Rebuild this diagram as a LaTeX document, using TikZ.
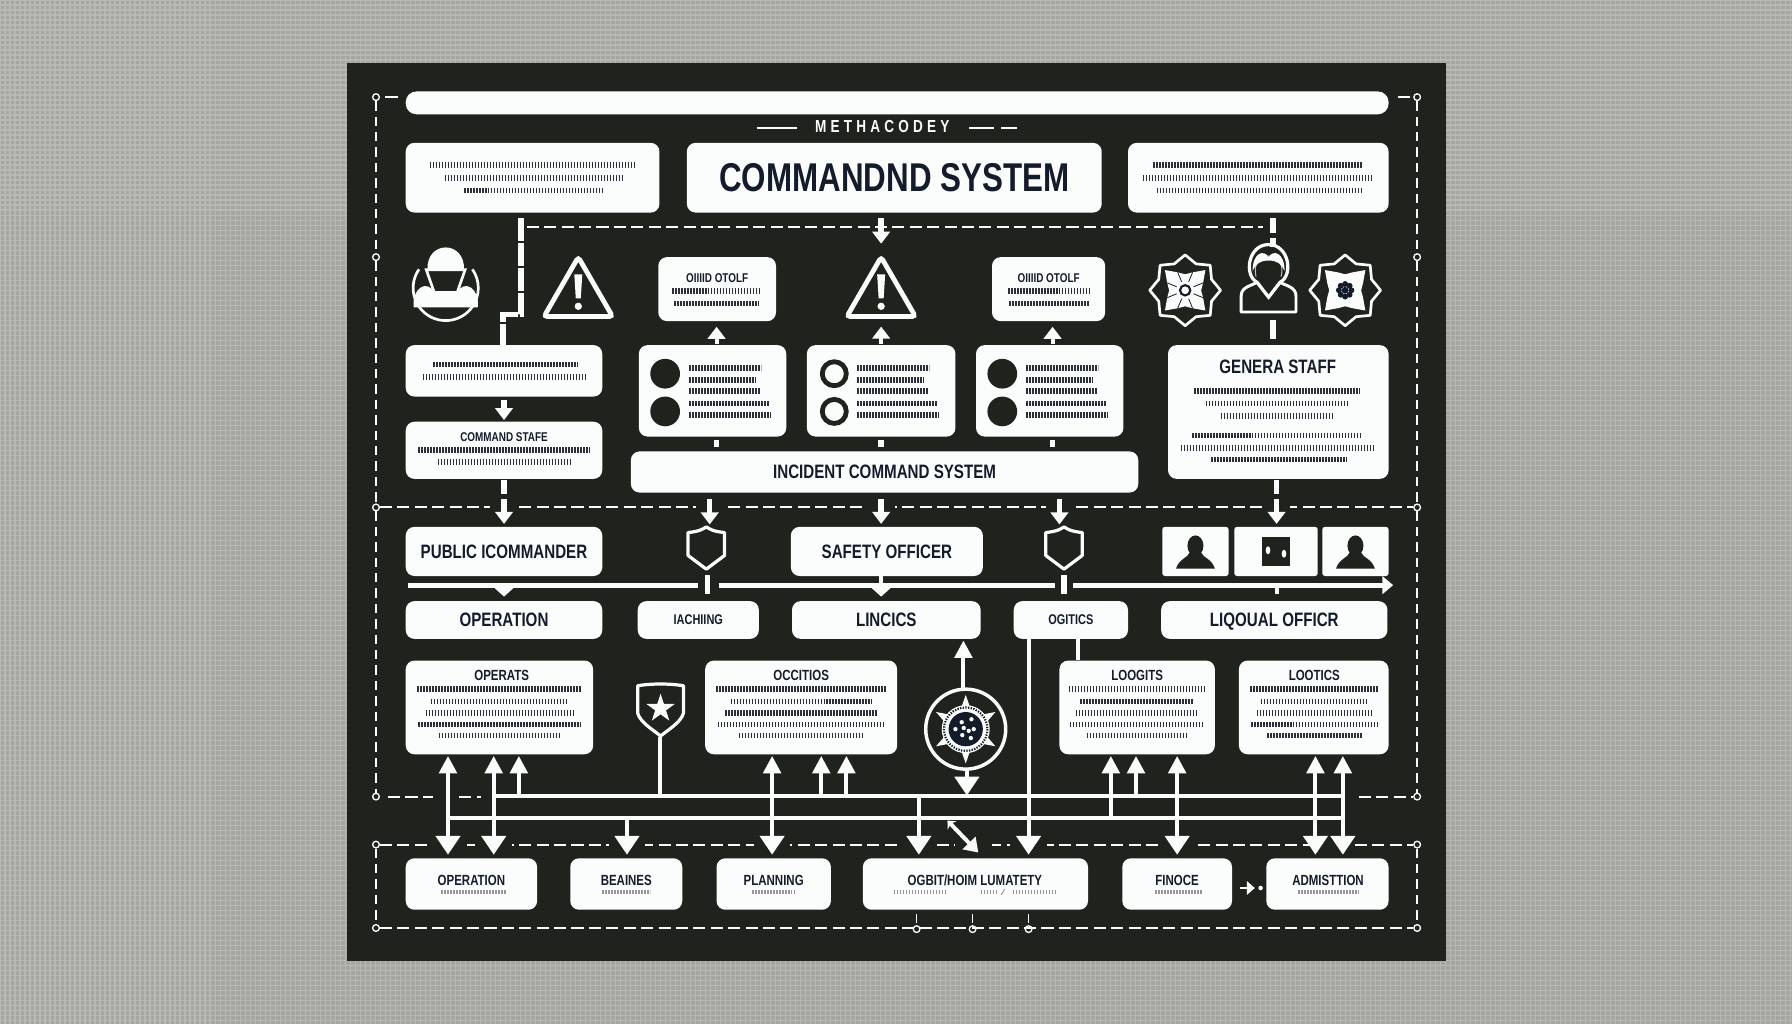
\documentclass[tikz,border=0pt]{standalone}
\usepackage{fontspec}
\setmainfont[FakeStretch=0.78]{Liberation Sans}
\newfontfamily\brandfont[FakeStretch=0.78,LetterSpace=24]{Liberation Sans}
\usepackage{tikz}
\usetikzlibrary{
  arrows.meta,
  calc,
  positioning
}
\definecolor{clothgray}{HTML}{A6A6A0}
\definecolor{clothline}{HTML}{B9B9B3}
\definecolor{panelbg}{HTML}{20221D}
\definecolor{boxwhite}{HTML}{FBFDFD}
\definecolor{inkdark}{HTML}{141C2C}
\definecolor{scribblegray}{HTML}{2A2F3A}
\newcommand{\sz}[1]{\fontsize{#1}{#1}\selectfont\bfseries}
\tikzset{
  tipup/.tip={Triangle[width=13pt, length=13pt]},
  tipdown/.tip={Triangle[width=18pt, length=14pt]},
  wh/.style 2 args={minimum width=#1*0.03cm, minimum height=#2*0.03cm},
  panelbox/.style={fill=boxwhite, rounded corners=6.5pt, inner sep=0pt, text=inkdark, align=center, text depth=0pt},
  plainbox/.style={fill=boxwhite, rounded corners=2pt, inner sep=0pt},
  caption/.style={inner sep=0pt, text=inkdark, align=center, text depth=0pt},
  scribble/.style={draw=scribblegray, line width=4.2pt, dash pattern=on 1.12pt off 1.12pt},
  scribblethin/.style={draw=scribblegray!50, line width=3pt, dash pattern=on 1.12pt off 1.12pt},
  ringdot/.style={circle, draw=boxwhite, fill=panelbg, line width=1pt, minimum size=5pt, inner sep=0pt},
  dashframe/.style={draw=boxwhite, line width=1.1pt, dash pattern=on 7pt off 4.5pt},
  dashrun/.style={draw=boxwhite, line width=1.5pt, dash pattern=on 9pt off 4pt},
  busline/.style={draw=boxwhite, line width=3pt},
  stubline/.style={draw=boxwhite, line width=4pt},
  onefeed/.style={draw=boxwhite, line width=4pt, -{Triangle[width=13pt, length=9pt]}},
  upfeed/.style={draw=boxwhite, line width=3pt, -tipup, shorten >=1pt},
  downfeed/.style={draw=boxwhite, line width=3pt, -tipdown, shorten >=2.5pt},
  twoway/.style={draw=boxwhite, line width=3pt, tipup-tipdown, shorten <=1pt, shorten >=2.5pt},
  gapmask/.style={fill=panelbg},
  warnsign/.pic={
    \draw[boxwhite, line width=3.6pt, rounded corners=2.5pt] (0,-26) -- (30,26) -- (-30,26) -- cycle;
    \fill[boxwhite] (-3.5,-11) -- (3.5,-11) -- (2.2,10) -- (-2.2,10) -- cycle;
    \fill[boxwhite] (0,17) circle (3.2);
  },
  rider/.pic={
    \fill[panelbg] (0,2) circle (28.5);
    \draw[boxwhite, line width=2pt] (215:28.5) ++(0,2) arc (215:-35:28.5);
    \fill[boxwhite] (-16,-14) .. controls (-17,-40) and (17,-40) .. (16,-14) -- cycle;
    \draw[boxwhite, line width=2pt, fill=panelbg] (-17,-14) -- (17,-14) -- (10,6) -- (-10,6) -- cycle;
    \fill[boxwhite] (-28,19) .. controls (-30,2) and (-16,-6) .. (-10,6) -- (10,6) .. controls (16,-6) and (30,2) .. (28,19) -- cycle;
  },
  guardshield/.pic={
    \draw[boxwhite, line width=2.4pt, fill=panelbg, line join=round] (-16,-14) .. controls (-6,-15) and (-3,-17) .. (0,-19) .. controls (3,-17) and (6,-15) .. (16,-14) -- (16,6) -- (0,18) -- (-16,6) -- cycle;
  },
  starshield/.pic={
    \draw[boxwhite, line width=2.4pt, fill=panelbg, line join=round] (-20,-20) .. controls (-8,-22) and (8,-22) .. (20,-20) -- (20,4) .. controls (18,12) and (6,19) .. (0,24) .. controls (-6,19) and (-18,12) .. (-20,4) -- cycle;
    \fill[boxwhite] (-90:13) -- (-54:5) -- (-18:13) -- (18:5) -- (54:13) -- (90:5) -- (126:13) -- (162:5) -- (198:13) -- (234:5) -- cycle;
  },
  badgerim/.pic={
    \draw[boxwhite, line width=2pt, fill=panelbg, line join=round] (0:31) \foreach \a in {45,90,...,315} {-- (\a-22.5:25) -- (\a:31)} -- (337.5:25) -- cycle;
    \fill[boxwhite] (45:25) -- (67.5:17) -- (90:14) -- (112.5:17) -- (135:25) -- (157.5:17) -- (180:14) -- (202.5:17) -- (225:25) -- (247.5:17) -- (270:14) -- (292.5:17) -- (315:25) -- (337.5:17) -- (0:14) -- (22.5:17) -- cycle;
  },
  eyebadge/.pic={
    \pic {badgerim};
    \draw[inkdark, line width=1.6pt] (0,0) circle (4.5);
    \foreach \a in {22.5,67.5,...,337.5} \draw[inkdark, line width=.6pt] (\a:8) -- (\a:17);
  },
  blobbadge/.pic={
    \pic {badgerim};
    \foreach \a in {0,45,...,315} \fill[inkdark] (\a:5.5) circle (2.6);
    \fill[inkdark] (0,0) circle (3);
  },
  roundbadge/.pic={
    \draw[boxwhite, line width=2.6pt, fill=panelbg] (0,0) circle (35);
    \foreach \a in {30,90,...,330} \fill[boxwhite] (\a:30) -- (\a+14:18) -- (\a-14:18) -- cycle;
    \fill[boxwhite] (0,0) circle (21);
    \draw[inkdark, line width=1.6pt, dash pattern=on 1pt off 1pt] (0,0) circle (19);
    \fill[inkdark] (0,0) circle (15);
    \foreach \a/\r in {0/7,60/9,120/6,180/9,240/7,300/10,30/3,210/2} \fill[boxwhite] (\a:\r) circle (1.9);
  },
  silhouette/.pic={
    \fill[panelbg] (0,-5) ellipse (7 and 9);
    \fill[panelbg] (-17,15) .. controls (-14,6) and (-7,6) .. (-5,1) -- (5,1) .. controls (7,6) and (14,6) .. (17,15) -- cycle;
  },
  doorfigure/.pic={
    \fill[panelbg] (-12.5,-13) rectangle (12.5,13);
    \fill[boxwhite] (-7,-1) ellipse (2 and 3.5);
    \fill[boxwhite] (7,2) ellipse (2 and 3.5);
  },
  staffperson/.pic={
    \draw[boxwhite, line width=2.2pt, fill=panelbg, line join=round] (-24,28) -- (-24,14) .. controls (-24,6) and (-15,5) .. (-10,2) -- (0,15) -- (10,2) .. controls (15,5) and (24,6) .. (24,14) -- (24,28) -- cycle;
    \draw[boxwhite, line width=2.4pt, fill=panelbg] (-10,2) .. controls (-22,-4) and (-18,-31) .. (0,-31) .. controls (18,-31) and (22,-4) .. (10,2) -- (0,15) -- cycle;
    \draw[boxwhite!70!panelbg, line width=.8pt] (-11,-3) .. controls (-17,-27) and (17,-27) .. (11,-3);
    \fill[boxwhite] (-14,-8) .. controls (-14,-24) and (-4,-27) .. (0,-20) .. controls (4,-27) and (14,-24) .. (14,-8) .. controls (11,-14) and (8,-17) .. (0,-17) .. controls (-8,-17) and (-11,-14) .. (-14,-8) -- cycle;
  },
}
\begin{document}
\begin{tikzpicture}[x=0.03cm, y=-0.03cm]
  \useasboundingbox (0,0) rectangle (1568,896);
  \fill[clothgray] (0,0) rectangle (1568,896);
  \begin{scope}[y=0.03cm]
    \draw[clothline, line width=.75pt, step=4.375] (0,-896) grid (1568,0);
  \end{scope}
  \fill[panelbg] (304,55) rectangle (1265,841);

  % ring markers of the outer frame
  \foreach \nm/\xx/\yy in {tl/329/85, tr/1240/85, ul/329/225, ur/1240/225, ml/329/444, mr/1240/444,
      sl/329/697, sr/1240/697, fl/329/739, fr/1240/739, bl/329/812, br/1240/812,
      ba/802/813, bb/851/813, bc/900/813}
    \node[ringdot] (\nm) at (\xx,\yy) {};
  \foreach \nm/\xx in {colA/392, colB/432, colC/454, colD/441, colE/548.6, colF/577.5, colG/675.6, colH/718.6,
      colI/740.6, colJ/804, colL/900, colM/943.5, colN/972, colO/994, colP/1030, colQ/1151, colR/1175,
      colS/619, colT/771, colU/931, colV/621, colW/927, colX/1117, colY/1114, colZ/456,
      cola/627, colb/921, colc/843, cold/846}
    \coordinate (\nm) at (\xx,0);

  % dashed frame
  \draw[dashframe] (tl) -- (ul);
  \draw[dashframe] (ul) -- (ml);
  \draw[dashframe] (ml) -- (sl);
  \draw[dashframe] (fl) -- (bl);
  \draw[dashframe] (tr) -- (ur);
  \draw[dashframe] (ur) -- (mr);
  \draw[dashframe] (mr) -- (sr);
  \draw[dashframe] (fr) -- (br);
  \draw[dashrun] (bl) -- (br);
  \draw[dashrun] (ml) -- (mr);
  \draw[dashrun] (fl) -- (fr);
  \coordinate (dashfoota) at (379,697);
  \coordinate (dashfootb) at (402,697);
  \coordinate (dashfootc) at (421,697);
  \coordinate (dashrise) at (1189,697);
  \draw[dashrun, shorten <=6pt] (sl) -- (dashfoota);
  \draw[dashrun] (dashfootb) -- (dashfootc);
  \draw[dashrun] (dashrise) -- (sr);
  \draw[boxwhite, line width=1.1pt] (tl.east) ++(4,0) -- ++(12,0);
  \draw[boxwhite, line width=1.1pt] (tr.west) ++(-3,0) -- ++(-10,0);
  \foreach \xx in {441,621,771,927,1117}
    \fill[gapmask] (\xx-12,440) rectangle (\xx+12,448);
  \foreach \xx in {392,432,548.6,675.6,804,852,900,1030,1163}
    \fill[gapmask] (\xx-16,734) rectangle (\xx+16,743);
  \foreach \nm in {ba,bb,bc}
    \draw[boxwhite, line width=1.1pt] (\nm.north) ++(0,-2) -- ++(0,-8);

  % top boxes
  \node[panelbox, rounded corners=8pt, wh={860}{20}] (topbar) at (785,90) {};
  \node[caption, text=boxwhite] (brand) at (772,111) {\brandfont\sz{13}METHACODEY};
  \coordinate (brandla) at (662,112);
  \coordinate (brandlb) at (697,112);
  \coordinate (brandra) at (848,112);
  \coordinate (brandrb) at (870,112);
  \coordinate (brandrc) at (876,112);
  \coordinate (brandrd) at (890,112);
  \draw[boxwhite, line width=1pt] (brandla) -- (brandlb);
  \draw[boxwhite, line width=1pt] (brandra) -- (brandrb);
  \draw[boxwhite, line width=1pt] (brandrc) -- (brandrd);
  \node[panelbox, wh={222}{61}] (hdrleft) at (466,155.5) {};
  \node[panelbox, wh={363}{61}] (hdrtitle) at (782.5,155.5) {\sz{30}COMMANDND SYSTEM};
  \node[panelbox, wh={228}{61}] (hdrright) at (1101,155.5) {};

  % second row
  \node[panelbox, wh={172}{45}] (notea) at (441,324.5) {};
  \node[panelbox, wh={172}{50}] (staffa) at (441,394) {};
  \node[caption] (staffatitle) at (441,382) {\sz{9.5}COMMAND STAFE};
  \node[panelbox, wh={103}{56}] (cmdl) at (627.5,253) {};
  \node[caption] (cmdltitle) at (627.5,243.5) {\sz{9.5}OIIIID OTOLF};
  \node[panelbox, wh={99}{56}] (cmdr) at (917.5,253) {};
  \node[caption] (cmdrtitle) at (917.5,243.5) {\sz{9.5}OIIIID OTOLF};
  \node[panelbox, wh={129}{80}] (dota) at (623.5,342) {};
  \node[panelbox, wh={130}{80}] (dotb) at (771,342) {};
  \node[panelbox, wh={129}{80}] (dotc) at (918.5,342) {};
  \node[panelbox, wh={444}{36}] (icsbar) at (774,413) {\sz{14.5}INCIDENT COMMAND SYSTEM};
  \node[panelbox, wh={193}{117}] (genstaff) at (1118.5,360.5) {};
  \node[caption] (genstafftitle) at (1118,321) {\sz{14.5}GENERA STAFF};

  % officer row
  \node[panelbox, wh={172}{43}] (pubcmd) at (441,482.5) {\sz{14.5}PUBLIC ICOMMANDER};
  \node[panelbox, wh={168}{43}] (safety) at (776,482.5) {\sz{14.5}SAFETY OFFICER};
  \node[plainbox, wh={58}{43}] (facea) at (1046,482.5) {};
  \node[plainbox, wh={73}{43}] (faceb) at (1116.5,482.5) {};
  \node[plainbox, wh={58}{43}] (facec) at (1186,482.5) {};

  % section row
  \node[panelbox, wh={172}{33}] (opera) at (441,542.5) {\sz{14.5}OPERATION};
  \node[panelbox, wh={106}{33}] (lachine) at (611,542.5) {\sz{10.5}IACHIING};
  \node[panelbox, wh={165}{33}] (lincics) at (775.5,542.5) {\sz{14.5}LINCICS};
  \node[panelbox, wh={100}{33}] (ogitics) at (937,542.5) {\sz{10.5}OGITICS};
  \node[panelbox, wh={198}{33}] (liqual) at (1115,542.5) {\sz{14.5}LIQOUAL OFFICR};

  % info row
  \node[panelbox, wh={164}{82}] (infoa) at (437,619) {};
  \node[panelbox, wh={168}{82}] (infob) at (701,619) {};
  \node[panelbox, wh={136}{82}] (infoc) at (995,619) {};
  \node[panelbox, wh={131}{82}] (infod) at (1149.5,619) {};
  \node[caption] (infoatitle) at (439,591) {\sz{11}OPERATS};
  \node[caption] (infobtitle) at (701,591) {\sz{11}OCCITIOS};
  \node[caption] (infoctitle) at (995,591) {\sz{11}LOOGITS};
  \node[caption] (infodtitle) at (1150,591) {\sz{11}LOOTICS};

  % foot row
  \node[panelbox, wh={115}{45}] (foota) at (412.5,773.5) {};
  \node[panelbox, wh={98}{45}] (footb) at (548,773.5) {};
  \node[panelbox, wh={100}{45}] (footc) at (677,773.5) {};
  \node[panelbox, wh={197}{45}] (footd) at (853.5,773.5) {};
  \node[panelbox, wh={96}{45}] (foote) at (1030,773.5) {};
  \node[panelbox, wh={107}{45}] (footf) at (1161.5,773.5) {};
  \node[caption] (footatitle) at (412.5,770) {\sz{11}OPERATION};
  \node[caption] (footbtitle) at (548,770) {\sz{11}BEAINES};
  \node[caption] (footctitle) at (677,770) {\sz{11}PLANNING};
  \node[caption] (footdtitle) at (853,770) {\sz{11}OGBIT/HOIM LUMATETY};
  \node[caption] (footetitle) at (1030,770) {\sz{11}FINOCE};
  \node[caption] (footftitle) at (1162,770) {\sz{11}ADMISTTION};

  % scribbled lines in the boxes
  \foreach \xa/\xb/\yy in {376/556/144.4, 389/544/155.8, 406/528/166.8,
      1009/1192/144.4, 1000/1202/155.8, 1012/1191/166.8,
      379/505/319, 370/512/329.6, 366/516/394, 383/500/404,
      588/666/254.4, 590/664/265.4, 882/954/254.4, 883/953/265.4,
      1045/1190/342, 1055/1179/353, 1068/1167/364, 1043/1192/381, 1033/1202/392, 1060/1179/402}
    \draw[scribble] (\xa,\yy) -- (\xb,\yy);
  \foreach \xa/\xb/\yy in {386/443/780.5, 527/569/780.5, 658/697/780.5, 782/828/780.5, 858/873/780.5,
      886/925/780.5, 1011/1052/780.5, 1136/1189/780.5}
    \draw[scribblethin] (\xa,\yy) -- (\xb,\yy);
  \draw[scribblegray!60, line width=.5pt] (876,783) -- (879,778);
  \foreach \lft in {559,706,854}
    \foreach \xa/\xb/\yy in {44/107/322, 44/102/332.5, 44/106/342, 44/114/353, 44/115/363}
      \draw[scribble] (\lft+\xa,\yy) -- (\lft+\xb,\yy);
  \foreach \cx/\sc in {437/1, 701/1.03, 995/.83, 1150/.78}
    \foreach \hw/\yy in {72/603, 60/613.7, 64.5/623.6, 71/634, 53/643.7}
      \draw[scribble] ({\cx-\hw*\sc},\yy) -- ({\cx+\hw*\sc},\yy);

  % dots in the second row boxes
  \foreach \yy in {327,360} {
    \fill[panelbg] (582,\yy) circle (13);
    \draw[panelbg, line width=3.6pt] (730,\yy) circle (10.5);
    \fill[panelbg] (877,\yy) circle (13);
  }

  % icons
  \pic at (390,250) {rider};
  \pic at (506,251) {warnsign};
  \pic at (771,251) {warnsign};
  \pic at (1037,254) {eyebadge};
  \pic at (1177,254) {blobbadge};
  \pic at (1110,245) {staffperson};
  \coordinate (shielda) at (618,480);
  \coordinate (shieldb) at (931,480);
  \coordinate (shieldc) at (578,620);
  \coordinate (bigbadge) at (845,638);
  \pic at (shielda) {guardshield};
  \pic at (shieldb) {guardshield};
  \pic at (shieldc) {starshield};
  \pic at (bigbadge) {roundbadge};
  \pic at (facea) {silhouette};
  \pic at (faceb) {doorfigure};
  \pic at (facec) {silhouette};

  % upper connectors
  \coordinate (jogtop) at (456,275);
  \coordinate (jogbot) at (440,275);
  \coordinate (dashleft) at (461,199);
  \coordinate (dashright) at (1105,199);
  \draw[draw=boxwhite, line width=4pt, dash pattern=on 17pt off 1.5pt, shorten <=4pt] (hdrleft.south -| colZ) -- (jogtop) -- (jogbot) -- (notea.north -| jogbot);
  \draw[dashrun] (dashleft) -- (dashright);
  \draw[onefeed, shorten <=4pt] (hdrtitle.south -| colT) -- +(0,27);
  \draw[stubline, shorten <=4pt] (hdrright.south -| colY) -- +(0,18);
  \draw[stubline] (hdrright.south -| colY) ++(0,22) -- ++(0,8);
  \draw[stubline] (genstaff.north -| colY) ++(0,-5) -- ++(0,-17);
  \draw[onefeed, shorten <=2pt, shorten >=1pt] (notea.south -| colD) -- (staffa.north -| colD);
  \draw[onefeed, line width=3pt, shorten <=1pt, shorten >=4pt] (dota.north -| cola) -- (cmdl.south -| cola);
  \draw[onefeed, line width=3pt, shorten <=1pt] (dotb.north -| colT) -- +(0,-16);
  \draw[onefeed, line width=3pt, shorten <=1pt, shorten >=4pt] (dotc.north -| colb) -- (cmdr.south -| colb);
  \draw[stubline, shorten <=2pt, shorten >=3pt] (dota.south -| cola) -- (icsbar.north -| cola);
  \draw[stubline, shorten <=2pt, shorten >=3pt] (dotb.south -| colT) -- (icsbar.north -| colT);
  \draw[stubline, shorten <=2pt, shorten >=3pt] (dotc.south -| colb) -- (icsbar.north -| colb);
  \draw[stubline, shorten <=1pt] (staffa.south -| colD) -- +(0,13);
  \draw[stubline, shorten <=1pt] (genstaff.south -| colX) -- +(0,13);
  \draw[onefeed, shorten >=2pt] (pubcmd.north -| colD) ++(0,-24) -- (pubcmd.north -| colD);
  \draw[onefeed, shorten >=2pt] (icsbar.south -| colV) ++(0,5) -- +(0,25);
  \draw[onefeed, shorten >=2pt] (safety.north -| colT) ++(0,-24) -- (safety.north -| colT);
  \draw[onefeed, shorten >=2pt] (icsbar.south -| colW) ++(0,5) -- +(0,25);
  \draw[onefeed, shorten >=2pt] (faceb.north -| colX) ++(0,-24) -- (faceb.north -| colX);

  % middle bar
  \coordinate (barstart) at (357,512);
  \coordinate (barS) at (611,512);
  \coordinate (barT) at (629,512);
  \coordinate (barU) at (923,512);
  \coordinate (barV) at (939,512);
  \coordinate (barend) at (1219,512);
  \draw[draw=boxwhite, line width=3.8pt] (barstart) -- (barS);
  \draw[draw=boxwhite, line width=3.8pt] (barT) -- (barU);
  \draw[draw=boxwhite, line width=3.8pt, -{Triangle[width=13pt, length=8pt]}] (barV) -- (barend);
  \draw[stubline] (colS |- barS) ++(0,-9) -- ++(0,17);
  \draw[stubline] (colU |- barS) ++(0,-9) -- ++(0,17);
  \draw[stubline, line width=3pt] (colX |- barS) -- +(0,8);
  \draw[stubline, line width=3pt] (safety.south -| colT) -- +(0,8);
  \fill[boxwhite] (431,513) -- (451,513) -- (441,522) -- cycle;
  \fill[boxwhite] (761,513) -- (781,513) -- (771,522) -- cycle;

  % buses
  \coordinate (busup) at (433,696.5);
  \coordinate (busupend) at (1175,696.5);
  \coordinate (buslo) at (393,715.5);
  \coordinate (busloend) at (1175,715.5);
  \draw[busline] (busup) -- (busupend);
  \draw[busline] (buslo) -- (busloend);

  % lower arrows
  \draw[twoway] (infoa.south -| colA) -- (foota.north -| colA);
  \draw[twoway] (infoa.south -| colB) -- (foota.north -| colB);
  \draw[upfeed] (busup -| colC) -- (infoa.south -| colC);
  \draw[downfeed] (buslo -| colE) -- (footb.north -| colE);
  \draw[busline] (busup -| colF) -- ($(shieldc)+(-0.5,25)$);
  \draw[twoway] (infob.south -| colG) -- (footc.north -| colG);
  \draw[upfeed] (busup -| colH) -- (infob.south -| colH);
  \draw[upfeed] (busup -| colI) -- (infob.south -| colI);
  \draw[downfeed] (busup -| colJ) -- (footd.north -| colJ);
  \coordinate (slanta) at (829,718);
  \coordinate (slantb) at (856,746);
  \draw[draw=boxwhite, line width=3pt, {Stealth[width=9pt, length=5pt]}-{Triangle[width=13pt, length=10pt]}] (slanta) -- (slantb);
  \draw[downfeed] (ogitics.south -| colL) -- (footd.north -| colL);
  \draw[stubline, line width=3pt] (ogitics.south -| colM) -- (infoc.north -| colM);
  \draw[upfeed] (buslo -| colN) -- (infoc.south -| colN);
  \draw[upfeed] (busup -| colO) -- (infoc.south -| colO);
  \draw[twoway] (infoc.south -| colP) -- (foote.north -| colP);
  \draw[twoway] (infod.south -| colQ) -- (footf.north -| colQ);
  \draw[twoway] (infod.south -| colR) -- (footf.north -| colR);

  % round badge links
  \draw[upfeed] (bigbadge) ++(-2,-36) -- (lincics.south -| colc);
  \draw[draw=boxwhite, line width=3pt, -tipdown] (bigbadge) ++(1,36) -- ++(0,22);

  % small arrow in the foot row
  \coordinate (hopa) at (1085,777);
  \coordinate (hopb) at (1098,777);
  \draw[draw=boxwhite, line width=2pt, -{Triangle[width=10pt, length=6pt]}] (hopa) -- (hopb);
  \fill[boxwhite] (1103,777) circle (2);
\end{tikzpicture}
\end{document}
